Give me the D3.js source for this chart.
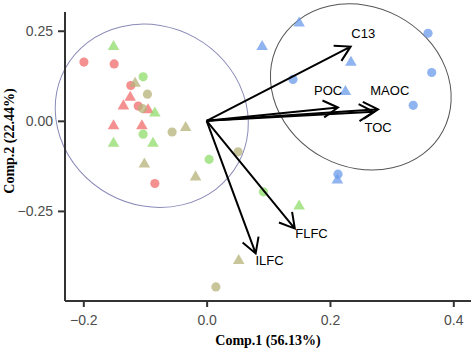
<!DOCTYPE html>
<html>
<head>
<meta charset="utf-8">
<script src="https://cdn.jsdelivr.net/npm/d3@7"></script>
<style>
  body { margin: 0; background: #fff; }
  .tick text { font-family: "Liberation Sans", Arial, sans-serif; font-size: 14px; fill: #4d4d4d; }
  .axis-title { font-family: "Liberation Serif", "Times New Roman", serif; font-size: 14px; font-weight: bold; }
  .load-label { font-family: "Liberation Sans", Arial, sans-serif; font-size: 13px; fill: #000; }
</style>
</head>
<body>
<div id="pca"></div>
<script>
//// data: sample scores (Comp.1, Comp.2), one array per group
var redCircles   = [[-0.199, 0.163], [-0.150, 0.158], [-0.123, 0.098], [-0.111, 0.041], [-0.084, -0.174]];
var redTriangles = [[-0.124, 0.065], [-0.135, 0.041], [-0.095, 0.030], [-0.151, -0.014], [-0.105, -0.014]];
var greenCircles   = [[-0.103, 0.122], [-0.103, -0.037], [0.004, -0.107], [0.092, -0.197]];
var greenTriangles = [[-0.151, 0.206], [-0.084, 0.021], [-0.151, -0.063], [-0.087, -0.063], [0.150, -0.237]];
var oliveCircles   = [[-0.096, 0.074], [-0.104, 0.034], [-0.056, -0.031], [0.051, -0.086], [0.015, -0.461]];
var oliveTriangles = [[-0.116, 0.104], [-0.034, -0.019], [-0.101, -0.120], [-0.018, -0.156], [0.052, -0.388]];
var blueCircles   = [[0.359, 0.243], [0.365, 0.134], [0.140, 0.115], [0.335, 0.043], [0.213, -0.148]];
var blueTriangles = [[0.150, 0.271], [0.090, 0.206], [0.234, 0.162], [0.225, 0.081], [0.212, -0.165]];

//// loadings (arrow tips) and where their names sit
var loadNames  = ["C13", "POC", "MAOC", "TOC", "FLFC", "ILFC"];
var loadTips   = [[0.2335, 0.206], [0.213, 0.037], [0.278, 0.032], [0.271, 0.025], [0.143, -0.299], [0.0795, -0.368]];
var loadLabels = [[0.254, 0.243], [0.197, 0.083], [0.297, 0.083], [0.278, -0.017], [0.170, -0.312], [0.102, -0.387]];

//// group ellipses: centre, half axes (data units)
var ellCentres = [[-0.089, 0.014], [0.250, 0.094]];
var ellRadii   = [[0.160, 0.248], [0.151, 0.222]];

var xTicks = [-0.2, 0.0, 0.2, 0.4];
var yTicks = [-0.25, 0.00, 0.25];

//// chart
var margin = {top: 12, right: 3, bottom: 51, left: 65},
    width = 474 - margin.left - margin.right,
    height = 352 - margin.top - margin.bottom;

var svg = d3.select("#pca")
  .append("svg")
    .attr("width", width + margin.left + margin.right)
    .attr("height", height + margin.top + margin.bottom)
  .append("g")
    .attr("transform", "translate(" + margin.left + "," + margin.top + ")");

var x = d3.scaleLinear().domain([-0.2297, 0.4287]).range([0, width]);
var y = d3.scaleLinear().domain([-0.5, 0.302]).range([height, 0]);

//// ellipses
var ellStyle = [{stroke: "#8a8ab8", tilt: 29}, {stroke: "#555", tilt: 28}];
ellCentres.forEach(function(c, i) {
  var rx = x(c[0] + ellRadii[i][0]) - x(c[0]);
  var ry = y(c[1]) - y(c[1] + ellRadii[i][1]);
  svg.append("ellipse")
    .attr("transform", "translate(" + x(c[0]) + "," + y(c[1]) + ") rotate(" + ellStyle[i].tilt + ")")
    .attr("rx", rx)
    .attr("ry", ry)
    .style("fill", "none")
    .style("stroke", ellStyle[i].stroke)
    .style("stroke-width", 1);
});

//// points
var groups = [
  {pts: redCircles, col: "#f26b6b", shape: d3.symbolCircle},
  {pts: redTriangles, col: "#f26b6b", shape: d3.symbolTriangle},
  {pts: greenCircles, col: "#8fdc6a", shape: d3.symbolCircle},
  {pts: greenTriangles, col: "#8fdc6a", shape: d3.symbolTriangle},
  {pts: oliveCircles, col: "#b7b27a", shape: d3.symbolCircle},
  {pts: oliveTriangles, col: "#b7b27a", shape: d3.symbolTriangle},
  {pts: blueCircles, col: "#6b9bea", shape: d3.symbolCircle},
  {pts: blueTriangles, col: "#6b9bea", shape: d3.symbolTriangle}
];

groups.forEach(function(g) {
  var size = g.shape === d3.symbolCircle ? 66 : 58;
  svg.selectAll(null)
      .data(g.pts)
    .enter().append("path")
      .attr("d", d3.symbol().type(g.shape).size(size))
      .attr("transform", function(d) { return "translate(" + x(d[0]) + "," + y(d[1]) + ")"; })
      .style("fill", g.col)
      .style("fill-opacity", 0.75);
});

//// arrows
var headLen = 17, headAng = Math.PI / 6;
loadTips.forEach(function(t) {
  var x0 = x(0), y0 = y(0), x1 = x(t[0]), y1 = y(t[1]);
  var a = Math.atan2(y1 - y0, x1 - x0);
  var p = d3.path();
  p.moveTo(x0, y0);
  p.lineTo(x1, y1);
  p.moveTo(x1 - headLen * Math.cos(a - headAng), y1 - headLen * Math.sin(a - headAng));
  p.lineTo(x1, y1);
  p.lineTo(x1 - headLen * Math.cos(a + headAng), y1 - headLen * Math.sin(a + headAng));
  svg.append("path")
    .attr("d", p.toString())
    .style("fill", "none")
    .style("stroke", "#000")
    .style("stroke-width", 2)
    .style("stroke-linejoin", "miter");
});

svg.selectAll(".load-label")
    .data(loadNames)
  .enter().append("text")
    .attr("class", "load-label")
    .attr("x", function(d, i) { return x(loadLabels[i][0]); })
    .attr("y", function(d, i) { return y(loadLabels[i][1]); })
    .attr("dy", "0.35em")
    .attr("text-anchor", "middle")
    .text(function(d) { return d; });

//// axes
var xAxis = svg.append("g")
  .attr("transform", "translate(0," + height + ")")
  .call(d3.axisBottom(x).tickValues(xTicks).tickFormat(d3.format(".1f")).tickSize(6).tickPadding(8));

var yAxis = svg.append("g")
  .call(d3.axisLeft(y).tickValues(yTicks).tickFormat(d3.format(".2f")).tickSize(7).tickPadding(5));

[xAxis, yAxis].forEach(function(ax) {
  ax.select(".domain").attr("stroke", "#333").attr("stroke-width", 2);
  ax.selectAll(".tick line").attr("stroke", "#333").attr("stroke-width", 2);
});
// the axis domains have outer ticks, drop them
xAxis.select(".domain").attr("d", "M0,0H" + width);
yAxis.select(".domain").attr("d", "M0,0V" + height);

//// axis titles
svg.append("text")
  .attr("class", "axis-title")
  .attr("x", 268 - margin.left)
  .attr("y", height + 44)
  .attr("text-anchor", "middle")
  .text("Comp.1 (56.13%)");

svg.append("text")
  .attr("class", "axis-title")
  .attr("transform", "translate(" + (14 - margin.left) + "," + (141 - margin.top) + ") rotate(-90)")
  .attr("text-anchor", "middle")
  .text("Comp.2 (22.44%)");
</script>
</body>
</html>
